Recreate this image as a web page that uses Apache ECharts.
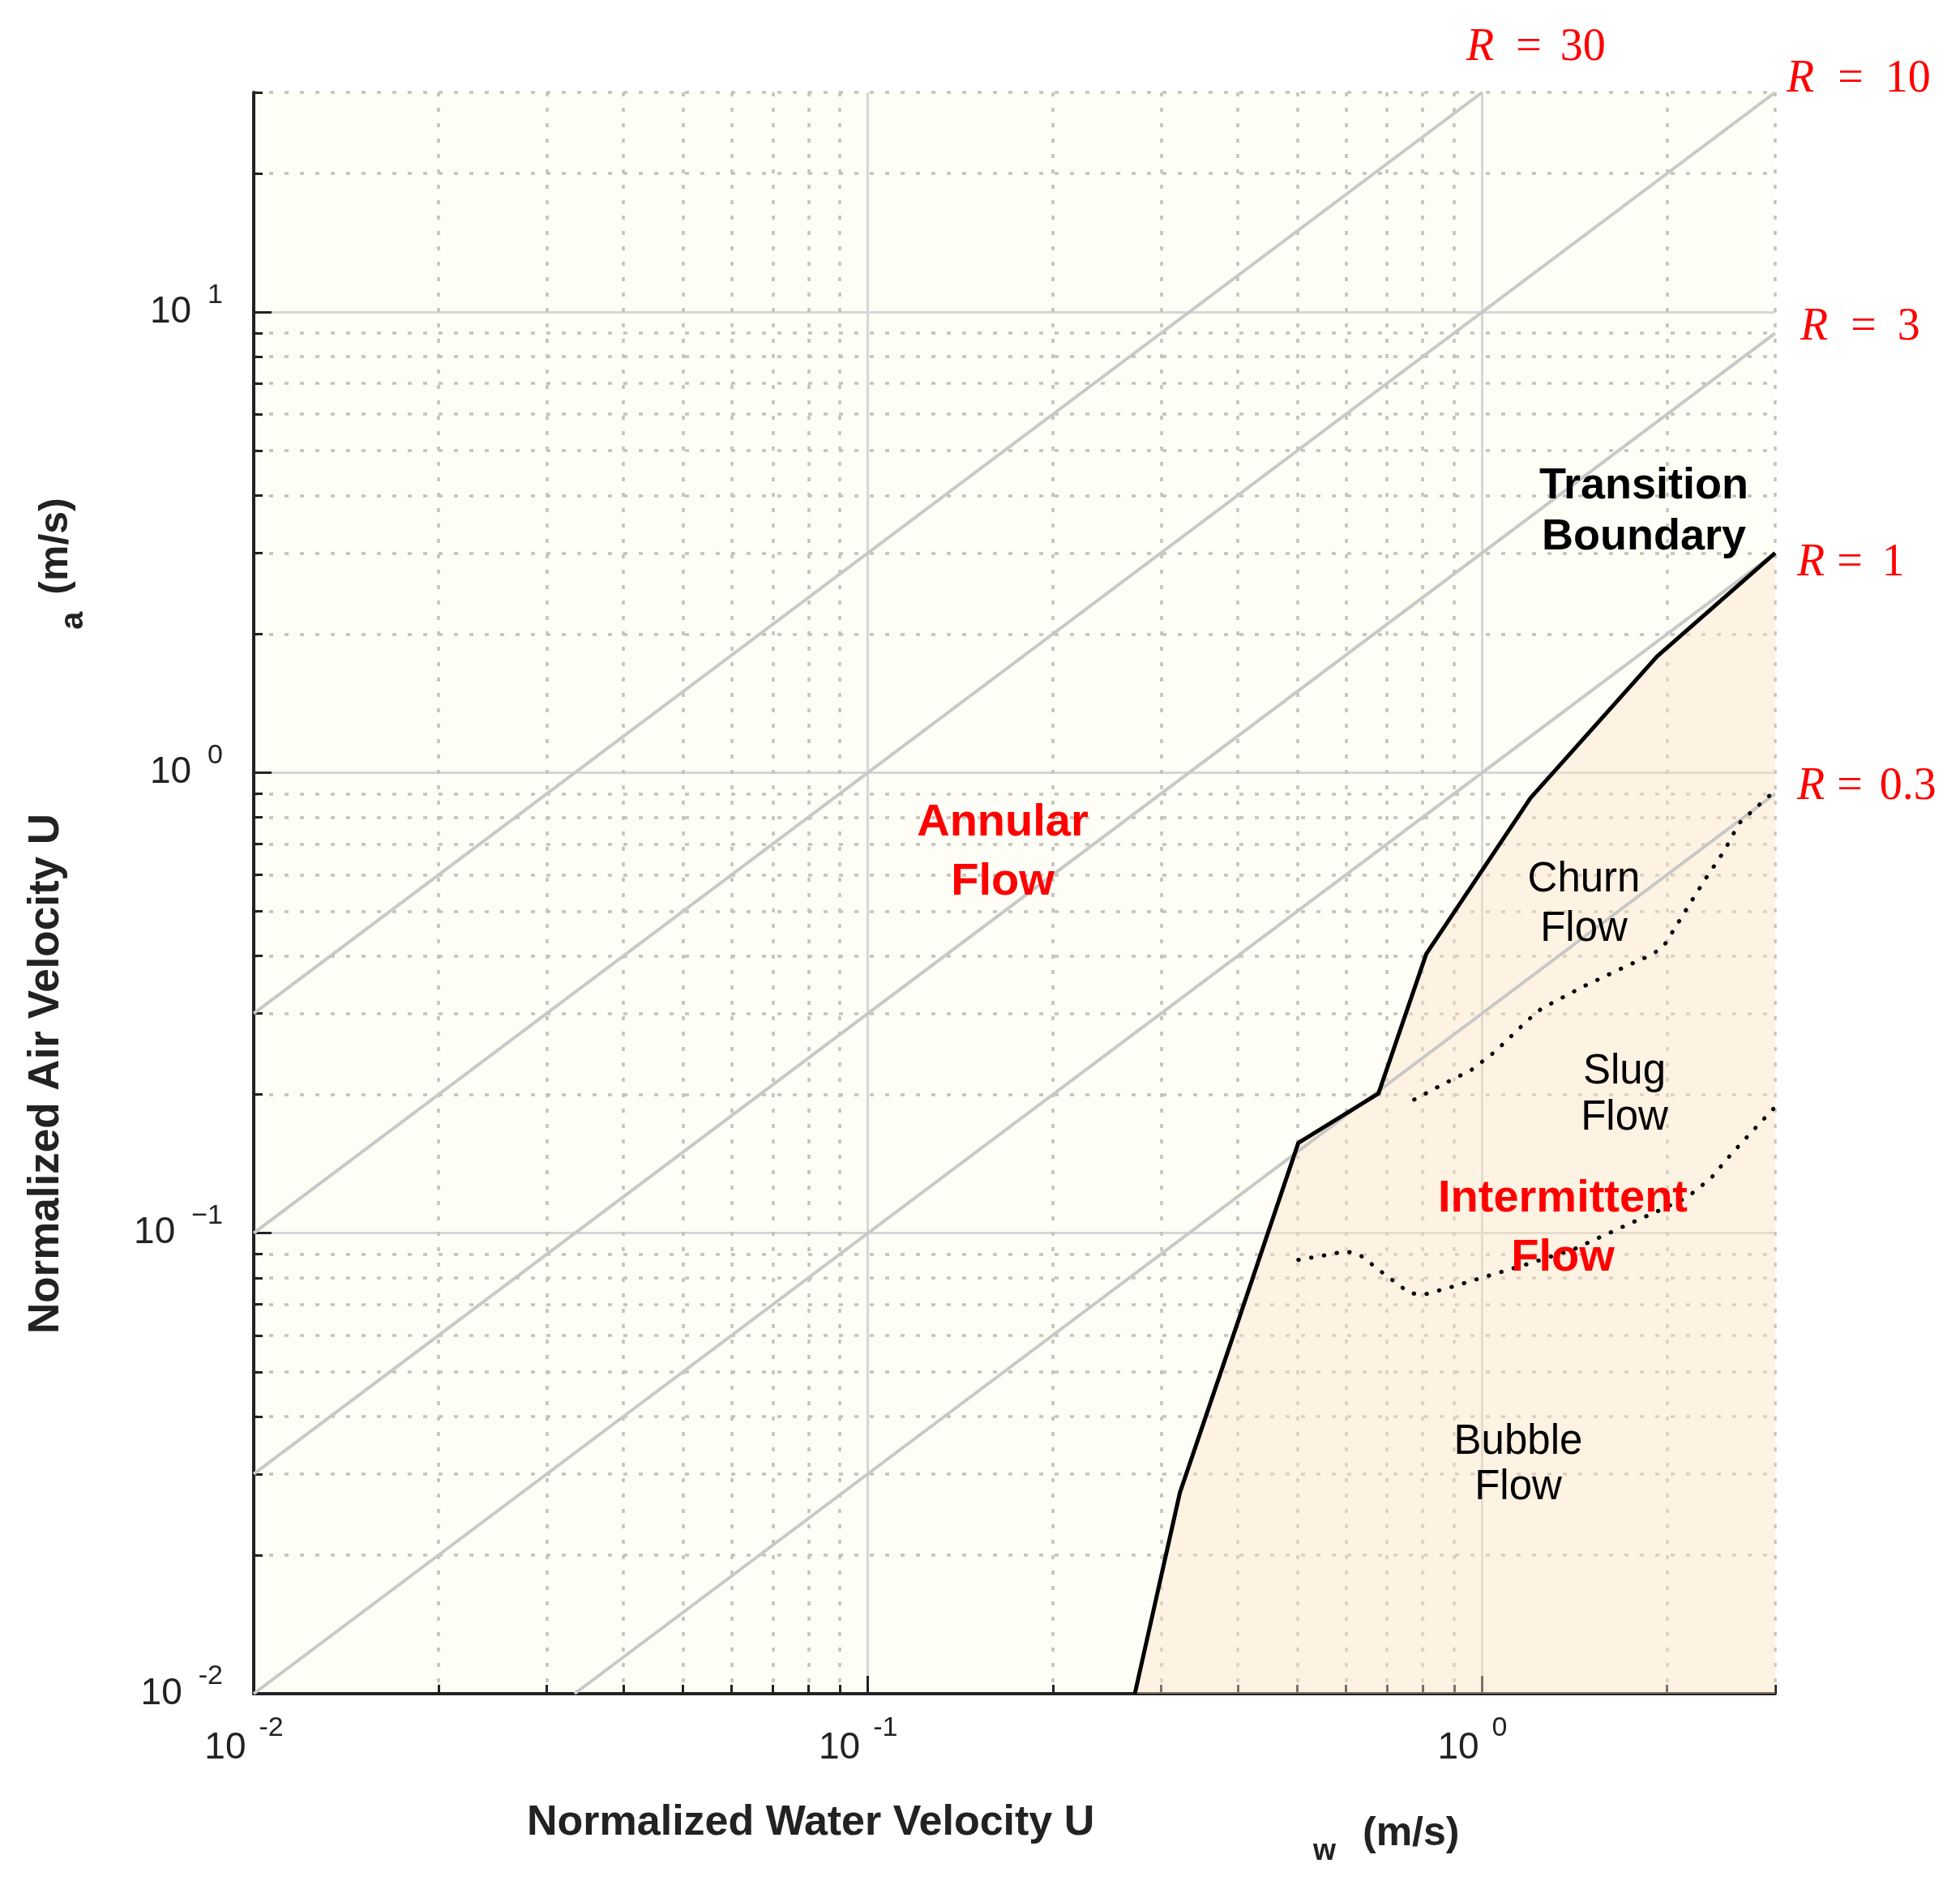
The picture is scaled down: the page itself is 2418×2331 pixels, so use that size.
<!DOCTYPE html>
<html><head><meta charset="utf-8">
<script src="https://cdn.jsdelivr.net/npm/echarts@6/dist/echarts.min.js"></script>
<style>html,body{margin:0;padding:0;background:#fff}#c{width:2418px;height:2331px}</style>
</head><body><div id="c"></div>
<script>
// ---------- data ----------
const xMajorTicks = [0.01, 0.1, 1];
const xMajorExp = ['-2', '-1', '0'];
const yMajorTicks = [0.01, 0.1, 1, 10];
const yMajorExp = ['-2', '\u22121', '0', '1'];
const xMinorTicks = [0.02,0.03,0.04,0.05,0.06,0.07,0.08,0.09,0.2,0.3,0.4,0.5,0.6,0.7,0.8,0.9,2,3];
const yMinorTicks = [0.02,0.03,0.04,0.05,0.06,0.07,0.08,0.09,0.2,0.3,0.4,0.5,0.6,0.7,0.8,0.9,2,3,4,5,6,7,8,9,20,30];

// constant gas/liquid ratio lines R (start and end points)
const rNames = ['30', '10', '3', '1', '0.3'];
const rStart = [[0.01, 0.3], [0.01, 0.1], [0.01, 0.03], [0.01, 0.01], [0.0333, 0.01]];
const rEnd = [[1, 30], [3, 30], [3, 9], [3, 3], [3, 0.9]];

// transition boundary (annular / intermittent)
const boundaryX = [0.272, 0.322, 0.40, 0.502, 0.678, 0.811, 1.199, 1.926, 3.0];
const boundaryY = [0.01, 0.0273, 0.064, 0.157, 0.201, 0.404, 0.881, 1.787, 3.0];

// churn / slug dotted boundary
const churnSlugX = [0.775, 0.86, 0.96, 1.05, 1.19, 1.25, 1.46, 1.71, 1.90, 1.98, 2.18, 2.32, 2.48, 2.62, 2.87, 3.0];
const churnSlugY = [0.195, 0.21, 0.226, 0.248, 0.291, 0.3075, 0.343, 0.379, 0.404, 0.422, 0.52, 0.593, 0.677, 0.776, 0.868, 0.913];

// slug / bubble dotted boundary
const slugBubbleX = [0.502, 0.567, 0.600, 0.632, 0.693, 0.762, 0.802, 0.897, 1.004, 1.193, 1.408, 1.742, 1.942, 2.16, 2.36, 2.55, 2.76, 3.0];
const slugBubbleY = [0.0875, 0.090, 0.0914, 0.0897, 0.0815, 0.0741, 0.0735, 0.0766, 0.0802, 0.0859, 0.0922, 0.105, 0.112, 0.1198, 0.1318, 0.149, 0.167, 0.188];

// ---------- chart ----------
const SANS = 'Liberation Sans, Arial, sans-serif';
const SERIF = 'Liberation Serif, Times New Roman, serif';
const zip = (xs, ys) => xs.map((x, i) => [x, ys[i]]);

const chart = echarts.init(document.getElementById('c'), null, {renderer: 'canvas'});

const axisDark = '#222222';
const majorGrid = '#d6d6d6';
const minorGrid = '#c4c2ba';

const series = [];
series.push({
  type: 'line', name: 'fill', data: zip(boundaryX, boundaryY), symbol: 'none', silent: true,
  lineStyle: {width: 0}, areaStyle: {color: 'rgba(252,226,197,0.6)', origin: 'start'}, z: 2
});
rNames.forEach((n, i) => {
  series.push({
    type: 'line', name: 'R=' + n, data: [rStart[i], rEnd[i]], symbol: 'none', silent: true,
    lineStyle: {color: '#c8c8c8', width: 4}, z: 3
  });
});
const dotStyle = {color: '#000', width: 5, type: [0.5, 15.5], cap: 'round'};
series.push({
  type: 'line', name: 'churn-slug', data: zip(churnSlugX, churnSlugY), symbol: 'none', silent: true,
  lineStyle: dotStyle, z: 4
});
series.push({
  type: 'line', name: 'slug-bubble', data: zip(slugBubbleX, slugBubbleY), symbol: 'none', silent: true,
  lineStyle: dotStyle, z: 4
});
series.push({
  type: 'line', name: 'boundary', data: zip(boundaryX, boundaryY), symbol: 'none', silent: true,
  lineStyle: {color: '#000', width: 5}, z: 5
});

function rLabel(idx, x, y, g1, g2) {
  return {
    type: 'text', x: x, y: y, z: 100,
    style: {
      text: '{r|R}{e|=}{n|' + rNames[idx] + '}',
      fill: '#ff0000', font: '55px ' + SERIF, align: 'left', verticalAlign: 'middle',
      rich: {
        r: {fontFamily: SERIF, fontSize: 56, fontStyle: 'italic', fill: '#ff0000', color: '#ff0000'},
        e: {fontFamily: SERIF, fontSize: 56, fill: '#ff0000', color: '#ff0000', padding: [0, 0, 0, g1]},
        n: {fontFamily: SERIF, fontSize: 56, fill: '#ff0000', color: '#ff0000', padding: [0, 0, 0, g2]}
      }
    }
  };
}
function block(text, x, y, size, weight, color, lh) {
  return {
    type: 'text', x: x, y: y, z: 100,
    style: {
      text: text, fill: color, font: weight + ' ' + size + 'px ' + SANS,
      fontSize: size, fontWeight: weight, fontFamily: SANS,
      align: 'center', verticalAlign: 'middle', lineHeight: lh
    }
  };
}

const graphic = [
  rLabel(0, 1809, 59, 27, 23),
  rLabel(1, 2204, 98, 29, 27),
  rLabel(2, 2221, 404, 28, 26),
  rLabel(3, 2217, 695, 15, 24),
  rLabel(4, 2217, 971, 15, 21),
  block('Annular\nFlow', 1237, 1052, 56, 'bold', '#ff0000', 73),
  block('Intermittent\nFlow', 1928, 1516, 56, 'bold', '#ff0000', 73),
  block('Transition\nBoundary', 2028, 632, 54, 'bold', '#000000', 63),
  block('Churn\nFlow', 1954, 1116, 51, 'normal', '#000000', 61),
  block('Slug\nFlow', 2004, 1351, 51, 'normal', '#000000', 57),
  block('Bubble\nFlow', 1873, 1808, 51, 'normal', '#000000', 56),
  // x axis title
  {type: 'text', x: 650, y: 2250, style: {text: 'Normalized Water Velocity U', fill: '#222', font: 'bold 52px ' + SANS, align: 'left', verticalAlign: 'middle'}},
  {type: 'text', x: 1620, y: 2285, style: {text: 'w', fill: '#222', font: 'bold 36px ' + SANS, align: 'left', verticalAlign: 'middle'}},
  {type: 'text', x: 1681, y: 2263, style: {text: '(m/s)', fill: '#222', font: 'bold 50px ' + SANS, align: 'left', verticalAlign: 'middle'}},
  // y axis title
  {type: 'text', x: 57, y: 1325, rotation: Math.PI / 2, style: {text: 'Normalized Air Velocity U', fill: '#222', font: 'bold 53px ' + SANS, align: 'center', verticalAlign: 'middle'}},
  {type: 'text', x: 91, y: 766, rotation: Math.PI / 2, style: {text: 'a', fill: '#222', font: 'bold 40px ' + SANS, align: 'center', verticalAlign: 'middle'}},
  {type: 'text', x: 69, y: 674, rotation: Math.PI / 2, style: {text: '(m/s)', fill: '#222', font: 'bold 50px ' + SANS, align: 'center', verticalAlign: 'middle'}}
];

const option = {
  animation: false,
  backgroundColor: '#ffffff',
  grid: {left: 313, top: 114, right: 228, bottom: 241, show: true, backgroundColor: '#fffef6', borderWidth: 0, containLabel: false},
  xAxis: [
    {
      type: 'log', logBase: 10, min: 0.01, max: 3, position: 'bottom',
      axisLine: {show: true, onZero: false, lineStyle: {color: axisDark, width: 4}},
      axisTick: {show: true, inside: true, length: 22, customValues: xMajorTicks, lineStyle: {color: axisDark, width: 3}},
      splitLine: {show: true, lineStyle: {color: majorGrid, width: 3, type: 'solid'}},
      axisLabel: {
        show: true, customValues: xMajorTicks, margin: 26, padding: [0, 24, 0, 0],
        formatter: function (v) {
          const i = xMajorTicks.findIndex(t => Math.abs(t - v) / t < 1e-6);
          return '{b|10}{s|' + xMajorExp[i] + '}';
        },
        rich: {
          b: {fontFamily: SANS, fontSize: 46, color: '#222'},
          s: {fontFamily: SANS, fontSize: 34, color: '#222', padding: [0, 0, 48, 16]}
        }
      }
    },
    {
      type: 'log', logBase: 10, min: 0.01, max: 3, position: 'bottom',
      axisLine: {show: false, onZero: false},
      axisTick: {show: true, inside: true, length: 11, customValues: xMinorTicks, lineStyle: {color: axisDark, width: 3}},
      splitLine: {show: true, lineStyle: {color: minorGrid, width: 3.5, type: [5, 14]}},
      axisLabel: {show: false}
    }
  ],
  yAxis: [
    {
      type: 'log', logBase: 10, min: 0.01, max: 30, position: 'left',
      axisLine: {show: true, onZero: false, lineStyle: {color: axisDark, width: 4}},
      axisTick: {show: true, inside: true, length: 22, customValues: yMajorTicks, lineStyle: {color: axisDark, width: 3}},
      splitLine: {show: true, lineStyle: {color: majorGrid, width: 3, type: 'solid'}},
      axisLabel: {
        show: true, customValues: yMajorTicks, margin: 38,
        formatter: function (v) {
          const i = yMajorTicks.findIndex(t => Math.abs(t - v) / t < 1e-6);
          return '{b|10}{s|' + yMajorExp[i] + '}';
        },
        rich: {
          b: {fontFamily: SANS, fontSize: 46, color: '#222'},
          s: {fontFamily: SANS, fontSize: 34, color: '#222', padding: [0, 0, 42, 20]}
        }
      }
    },
    {
      type: 'log', logBase: 10, min: 0.01, max: 30, position: 'left',
      axisLine: {show: false, onZero: false},
      axisTick: {show: true, inside: true, length: 11, customValues: yMinorTicks, lineStyle: {color: axisDark, width: 3}},
      splitLine: {show: true, lineStyle: {color: minorGrid, width: 3.5, type: [5, 14]}},
      axisLabel: {show: false}
    }
  ],
  series: series,
  graphic: graphic
};
chart.setOption(option);
</script>
</body></html>
